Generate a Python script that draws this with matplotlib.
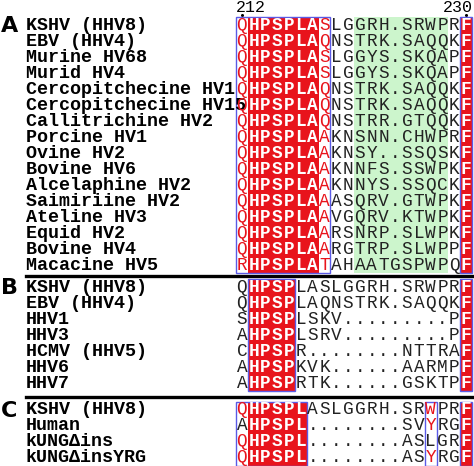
import matplotlib
matplotlib.use("Agg")
import matplotlib.pyplot as plt
from matplotlib.patches import Rectangle

labels_a = ["KSHV (HHV8)", "EBV (HHV4)", "Murine HV68", "Murid HV4", "Cercopitchecine HV1",
            "Cercopitchecine HV15", "Callitrichine HV2", "Porcine HV1", "Ovine HV2", "Bovine HV6",
            "Alcelaphine HV2", "Saimiriine HV2", "Ateline HV3", "Equid HV2", "Bovine HV4", "Macacine HV5"]
seqs_a = ["QHPSPLASLGGRH.SRWPRF", "QHPSPLAQNSTRK.SAQQKF", "QHPSPLASLGGYS.SKQAPF",
          "QHPSPLASLGGYS.SKQAPF", "QHPSPLAQNSTRK.SAQQKF", "QHPSPLAQNSTRK.SAQQKF",
          "QHPSPLAQNSTRR.GTQQKF", "QHPSPLAAKNSNN.CHWPRF", "QHPSPLAAKNSY..SSQSKF",
          "QHPSPLAAKNNFS.SSWPKF", "QHPSPLAAKNNYS.SSQCKF", "QHPSPLAAASQRV.GTWPKF",
          "QHPSPLAAVGQRV.KTWPKF", "QHPSPLAARSNRP.SLWPKF", "QHPSPLAARGTRP.SLWPPF",
          "RHPSPLATAHAATGSPWPQF"]
labels_b = ["KSHV (HHV8)", "EBV (HHV4)", "HHV1", "HHV3", "HCMV (HHV5)", "HHV6", "HHV7"]
seqs_b = ["QHPSPLASLGGRH.SRWPRF", "QHPSPLAQNSTRK.SAQQKF", "SHPSPLSKV.........PF",
          "AHPSPLSRV.........PF", "CHPSPR........NTTRAF", "AHPSPKVK......AARMPF",
          "AHPSPRTK......GSKTPF"]
labels_c = ["KSHV (HHV8)", "Human", "kUNGΔins", "kUNGΔinsYRG"]
seqs_c = ["QHPSPLASLGGRH.SRWPRF", "AHPSPL........SVYRGF", "QHPSPL........ASLGRF",
          "QHPSPL........ASYRGF"]
position_labels = ["212", "230"]
position_cols = [0, 19]

RED = "#e8141c"
GREEN = "#ccf5cc"
BLUE = "#5a5ae6"
X0, CW = 236.0, 11.8
LX = 26

fig = plt.figure(figsize=(4.74, 4.66), dpi=100)
ax = fig.add_axes([0, 0, 1, 1])
ax.set_xlim(0, 474)
ax.set_ylim(466, 0)
ax.axis("off")
mono = "Liberation Mono"
FS = 13.2
SFS = 12.8

def cx(c):
    return X0 + CW * (c + 0.5)

def block(y0, labels, seqs, letter, red_cols, redtext_cols, green_cols, boxes):
    n = len(seqs)
    top = y0 - 8
    bot = y0 + 16 * n - 8
    ax.text(1, y0 + 1, letter, fontsize=16, fontweight="bold", family="DejaVu Sans",
            va="center", ha="left")
    if green_cols:
        ax.add_patch(Rectangle((X0 + CW * green_cols[0], top), CW * len(green_cols), bot - top,
                               facecolor=GREEN, edgecolor="none", zorder=0))
    for c0, c1 in [(red_cols[0], red_cols[-1])] + [(19, 19)]:
        ax.add_patch(Rectangle((X0 + CW * c0, top), CW * (c1 - c0 + 1), bot - top,
                               facecolor=RED, edgecolor="none", zorder=1))
    for (c0, c1) in boxes + [(19, 19)]:
        ax.add_patch(Rectangle((X0 + CW * c0, top), CW * (c1 - c0 + 1), bot - top,
                               facecolor="none", edgecolor=BLUE, lw=1.0, zorder=3))
    for i, (lab, s) in enumerate(zip(labels, seqs)):
        y = y0 + 16 * i
        ax.text(LX, y, lab, family=[mono, "DejaVu Sans"], fontweight="bold", fontsize=FS,
                va="center", ha="left")
        for c, ch in enumerate(s):
            if c in red_cols or c == 19:
                kw = dict(color="white", fontweight="bold")
            elif redtext_cols.get(c) and ch in redtext_cols[c]:
                kw = dict(color=RED)
            else:
                kw = dict(color="#222222")
            ax.text(cx(c), y, ch, family=mono, fontsize=SFS, va="center", ha="center",
                    zorder=4, **kw)
    return bot

block(25, labels_a, seqs_a, "A", list(range(1, 7)),
      {0: "QR", 7: "SQAT"}, list(range(10, 18)), [(0, 7)])
block(287, labels_b, seqs_b, "B", list(range(1, 5)), {}, [], [(1, 4)])
block(410, labels_c, seqs_c, "C", list(range(1, 6)),
      {0: "Q", 16: "WY"}, [], [(0, 5), (16, 16)])

for ysep in (276, 397):
    ax.plot([LX, 472], [ysep, ysep], color="black", lw=2.4)

ax.text(cx(position_cols[0]) - 6, 7, position_labels[0], family=mono, fontsize=12,
        va="center", ha="left")
ax.text(473, 7, position_labels[1], family=mono, fontsize=12, va="center", ha="right")
for c in position_cols:
    ax.plot([cx(c)], [14.5], marker="o", ms=1.2, color="black")

fig.savefig("out.png", dpi=100)
